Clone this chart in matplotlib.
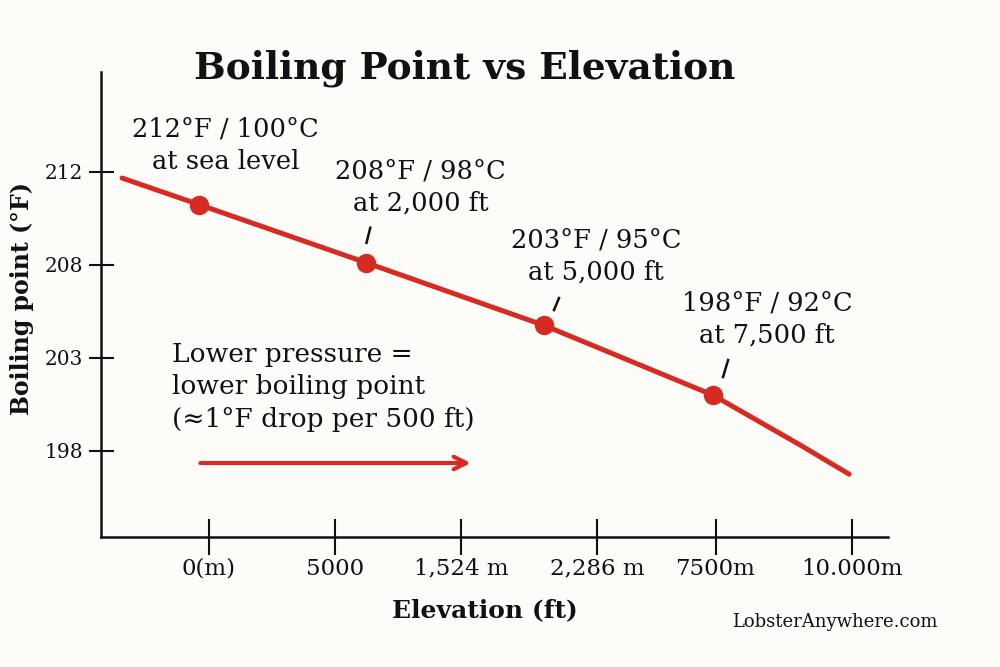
import matplotlib
matplotlib.use("Agg")
import matplotlib.pyplot as plt

# ---- data (axis units as drawn) ----
curve_x = [-0.69, -0.08, 1.246, 2.66, 4.0, 4.69, 5.08]
curve_y = [211.74, 210.6, 208.1, 205.4, 202.4, 200.26, 199.0]

point_x = [-0.08, 1.246, 2.66, 4.0]
point_y = [210.6, 208.1, 205.4, 202.4]
point_labels = ["212°F / 100°C\nat sea level",
                "208°F / 98°C\nat 2,000 ft",
                "203°F / 95°C\nat 5,000 ft",
                "198°F / 92°C\nat 7,500 ft"]

xtick_pos = [0, 1, 2, 3.08, 4.02, 5.1]
xtick_labels = ["0(m)", "5000", "1,524 m", "2,286 m", "7500m", "10.000m"]
ytick_pos = [212, 208, 204, 200]
ytick_labels = ["212", "208", "203", "198"]

RED = "#d62b22"
BG = "#fdfcf9"
FONT = "DejaVu Serif"
plt.rcParams['font.family'] = [FONT]

fig = plt.figure(figsize=(10, 6.67), dpi=100, facecolor=BG)
ax = fig.add_axes([0.101, 0.195, 0.787, 0.697], facecolor=BG)

ax.plot(curve_x, curve_y, color=RED, lw=3.6, solid_capstyle='round', zorder=3)
ax.plot(point_x, point_y, 'o', color=RED, ms=13, zorder=4)

ax.set_xlim(-0.857, 5.389)
ax.set_ylim(196.3, 216.3)

for s in ['top', 'right']:
    ax.spines[s].set_visible(False)
for s in ['left', 'bottom']:
    ax.spines[s].set_linewidth(1.8)
    ax.spines[s].set_color('#111111')

ax.set_xticks(xtick_pos)
ax.set_xticklabels(xtick_labels, fontsize=16.5)
ax.set_yticks(ytick_pos)
ax.set_yticklabels(ytick_labels, fontsize=14.5)
ax.tick_params(axis='x', direction='inout', length=26, width=1.5, pad=2, colors='#111111')
ax.tick_params(axis='y', direction='inout', length=18, width=1.5, pad=4, colors='#111111')

# annotations: label text positions (axes units) and leader lines
label_pos = [(0.13, 213.16), (1.68, 211.35), (3.07, 208.39), (4.43, 205.66)]
leaders = [None,
           ((1.28, 209.6), (1.25, 208.95)),
           ((2.778, 206.58), (2.738, 206.06)),
           ((4.12, 203.91), (4.08, 203.18))]
for (tx, ty), lab, ld in zip(label_pos, point_labels, leaders):
    ax.text(tx, ty, lab, ha='center', va='center', fontsize=18.5,
            linespacing=1.35, color='#111111')
    if ld is not None:
        ax.plot([ld[0][0], ld[1][0]], [ld[0][1], ld[1][1]], color='#111111', lw=1.8)

ax.text(-0.295, 202.75, "Lower pressure =\nlower boiling point\n(≈1°F drop per 500 ft)",
        ha='left', va='center', fontsize=19, linespacing=1.36, color='#111111')
ax.annotate("", xy=(2.1, 199.48), xytext=(-0.09, 199.48),
            arrowprops=dict(arrowstyle='->,head_length=0.9,head_width=0.45',
                            color=RED, lw=3))

fig.text(0.465, 0.898, "Boiling Point vs Elevation", ha='center', va='center',
         fontsize=27, fontweight='bold', color='#111111')
fig.text(0.485, 0.085, "Elevation (ft)", ha='center', va='center',
         fontsize=18, fontweight='bold', color='#111111')
fig.text(0.022, 0.553, "Boiling point (°F)", ha='center', va='center', rotation=90,
         fontsize=17, fontweight='bold', color='#111111')
fig.text(0.835, 0.068, "LobsterAnywhere.com", ha='center', va='center',
         fontsize=13, color='#111111')

fig.savefig("out.png", dpi=100, facecolor=BG)
